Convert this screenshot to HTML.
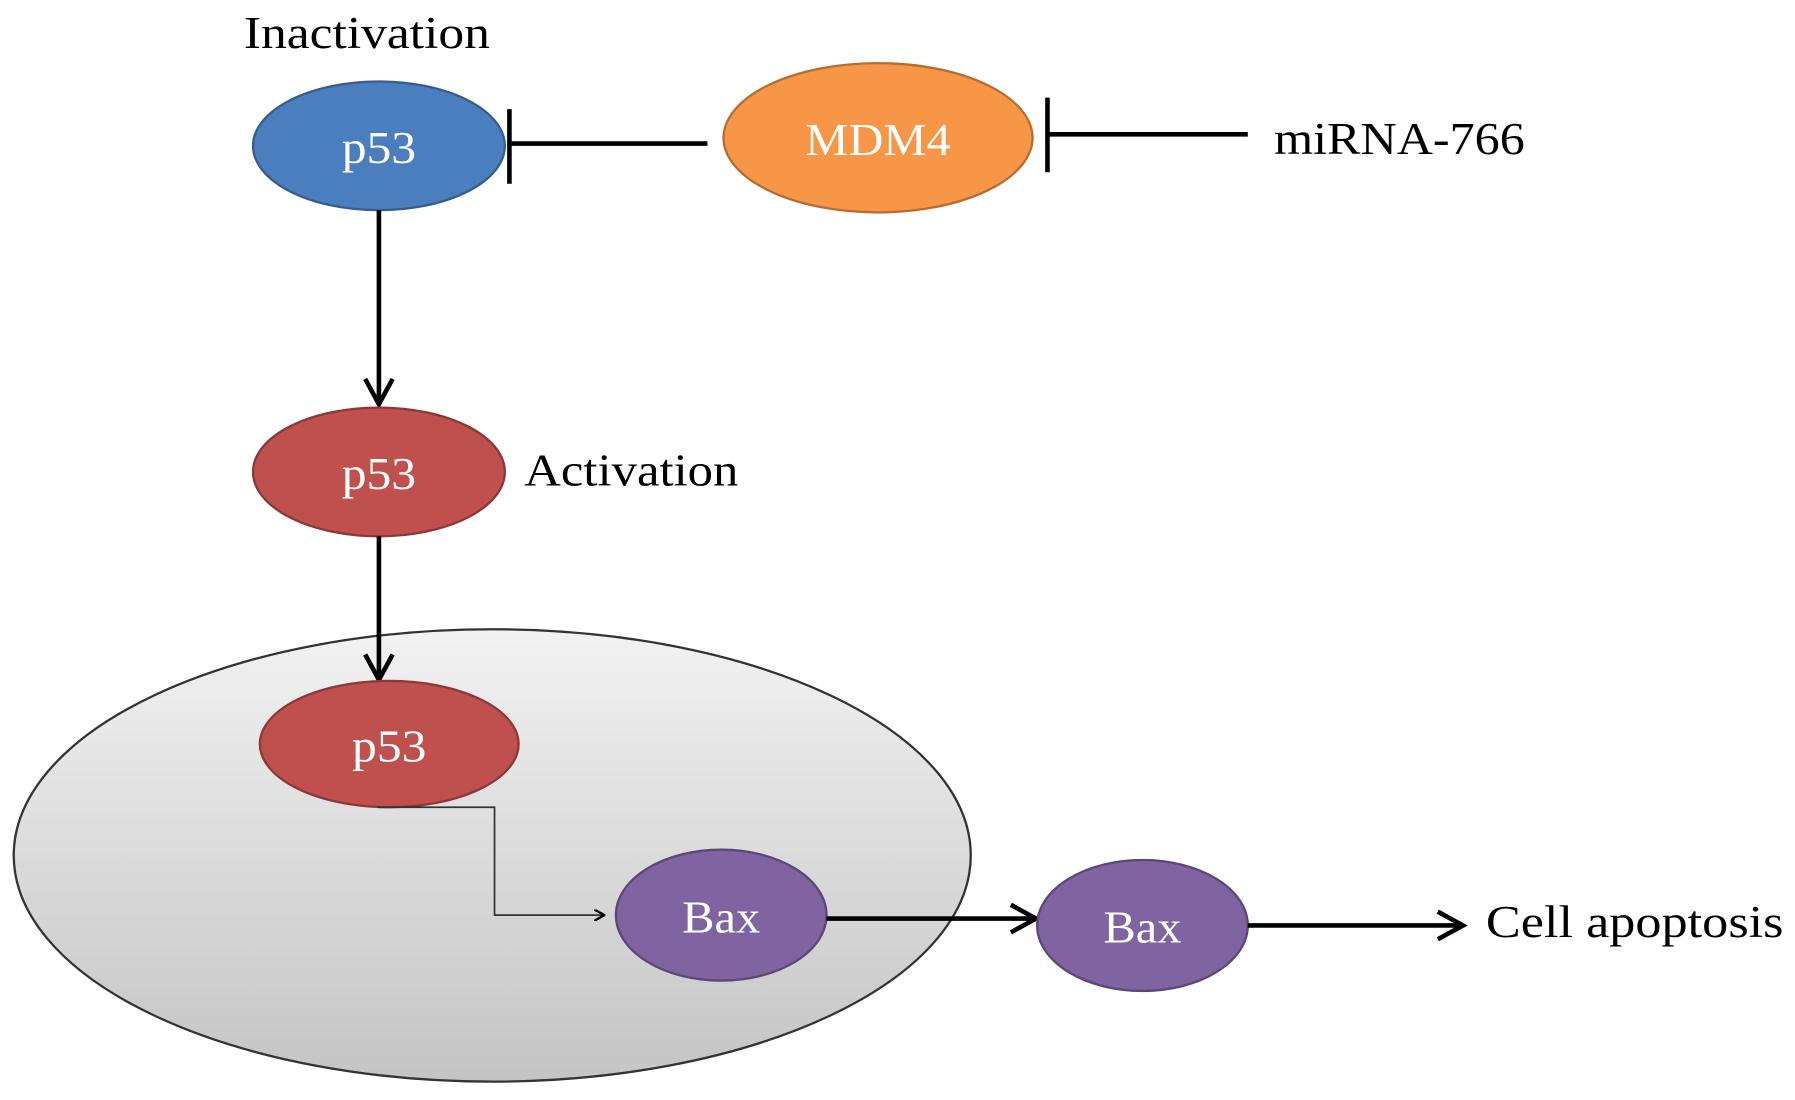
<!DOCTYPE html>
<html><head><meta charset="utf-8"><style>html,body{margin:0;padding:0;background:#fff;}svg{display:block}</style></head>
<body>
<svg width="1795" height="1100" viewBox="0 0 1568 958" preserveAspectRatio="none" xmlns="http://www.w3.org/2000/svg" font-family="Liberation Serif, serif">
<defs>
<linearGradient id="g" x1="0" y1="0" x2="0" y2="1"><stop offset="0" stop-color="#f2f2f2"/><stop offset="1" stop-color="#c4c4c4"/></linearGradient>
<marker id="a" markerWidth="10" markerHeight="10" refX="8" refY="5" orient="auto" markerUnits="userSpaceOnUse" viewBox="0 0 10 10"><path d="M0,0 L9,5 L0,10" fill="none" stroke="#000" stroke-width="2"/></marker>
</defs>
<text x="213" y="42" font-size="40" textLength="215" lengthAdjust="spacingAndGlyphs">Inactivation</text>
<ellipse cx="331" cy="127" rx="110" ry="56" fill="#4a7ebf" stroke="#385d8a" stroke-width="2"/>
<text x="331" y="142" font-size="40" fill="#fff" text-anchor="middle" textLength="65" lengthAdjust="spacingAndGlyphs">p53</text>
<line x1="445" y1="125" x2="618" y2="125" stroke="#000" stroke-width="4"/>
<line x1="445" y1="95" x2="445" y2="160" stroke="#000" stroke-width="4"/>
<ellipse cx="767" cy="120" rx="135" ry="65" fill="#f79646" stroke="#b66d31" stroke-width="2"/>
<text x="767" y="135" font-size="40" fill="#fff" text-anchor="middle" textLength="127" lengthAdjust="spacingAndGlyphs">MDM4</text>
<line x1="915" y1="117" x2="1090" y2="117" stroke="#000" stroke-width="4"/>
<line x1="915" y1="85" x2="915" y2="150" stroke="#000" stroke-width="4"/>
<text x="1113" y="134" font-size="40" textLength="219" lengthAdjust="spacingAndGlyphs">miRNA-766</text>
<line x1="331" y1="183" x2="331" y2="350" stroke="#000" stroke-width="4"/>
<path d="M319,330 L331,352 L343,330" fill="none" stroke="#000" stroke-width="4"/>
<ellipse cx="331" cy="411" rx="110" ry="56" fill="#c0504d" stroke="#8c3836" stroke-width="2"/>
<text x="331" y="426" font-size="40" fill="#fff" text-anchor="middle" textLength="65" lengthAdjust="spacingAndGlyphs">p53</text>
<text x="458" y="423" font-size="40" textLength="187" lengthAdjust="spacingAndGlyphs">Activation</text>
<ellipse cx="430" cy="745" rx="418" ry="197" fill="url(#g)" stroke="#333" stroke-width="2"/>
<line x1="331" y1="467" x2="331" y2="590" stroke="#000" stroke-width="4"/>
<path d="M319,570 L331,592 L343,570" fill="none" stroke="#000" stroke-width="4"/>
<ellipse cx="340" cy="648" rx="113" ry="55" fill="#c0504d" stroke="#8c3836" stroke-width="2"/>
<text x="340" y="663" font-size="40" fill="#fff" text-anchor="middle" textLength="65" lengthAdjust="spacingAndGlyphs">p53</text>
<path d="M330,703 L432,703 L432,797 L527,797" fill="none" stroke="#333" stroke-width="1.5" marker-end="url(#a)"/>
<ellipse cx="630" cy="797" rx="92" ry="57" fill="#8064a2" stroke="#5c4776" stroke-width="2"/>
<text x="630" y="812" font-size="40" fill="#fff" text-anchor="middle" textLength="68" lengthAdjust="spacingAndGlyphs">Bax</text>
<line x1="722" y1="800" x2="903" y2="800" stroke="#000" stroke-width="4"/>
<path d="M883,788 L905,800 L883,812" fill="none" stroke="#000" stroke-width="4"/>
<ellipse cx="998" cy="806" rx="92" ry="57" fill="#8064a2" stroke="#5c4776" stroke-width="2"/>
<text x="998" y="821" font-size="40" fill="#fff" text-anchor="middle" textLength="68" lengthAdjust="spacingAndGlyphs">Bax</text>
<line x1="1090" y1="806" x2="1276" y2="806" stroke="#000" stroke-width="4"/>
<path d="M1256,794 L1278,806 L1256,818" fill="none" stroke="#000" stroke-width="4"/>
<text x="1298" y="816" font-size="40" textLength="260" lengthAdjust="spacingAndGlyphs">Cell apoptosis</text>
</svg>
</body></html>
